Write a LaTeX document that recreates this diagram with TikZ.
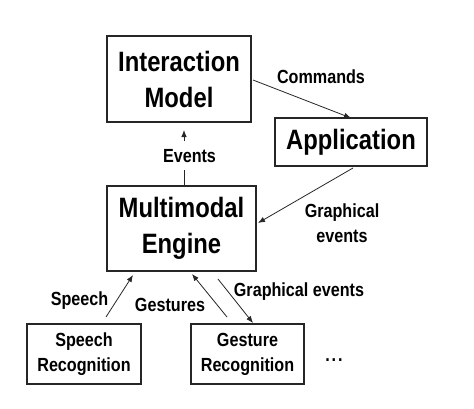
\documentclass[tikz,border=0pt]{standalone}
\usepackage{fontspec}
\setmainfont{Liberation Sans}[FakeStretch=0.85]
\usetikzlibrary{arrows.meta}
\begin{document}
\begin{tikzpicture}[x=1pt,y=-1pt,
  box/.style={draw=black!85,line width=1.2pt,inner sep=0pt,align=center,font=\bfseries},
  bigtxt/.style={font=\fontsize{28}{36}\selectfont\bfseries},
  smalltxt/.style={font=\fontsize{19}{25}\selectfont\bfseries},
  lbl/.style={font=\fontsize{19}{25}\selectfont\bfseries,inner sep=0pt,align=center},
  arr/.style={draw=black!85,line width=0.8pt,-{Latex[length=7pt,width=5.5pt]}},
  ln/.style={draw=black!85,line width=0.8pt}]
\useasboundingbox[fill=white] (0,0) rectangle (474,408);
% boxes
\node[box,bigtxt,minimum width=144pt,minimum height=86pt] (im) at (179,79) {Interaction\\Model};
\node[box,bigtxt,minimum width=152pt,minimum height=48pt] (app) at (351,142) {Application};
\node[box,bigtxt,minimum width=149pt,minimum height=85pt] (mme) at (181.5,228.5) {Multimodal\\Engine};
\node[box,smalltxt,minimum width=114pt,minimum height=60pt] (sr) at (84,354) {Speech\\Recognition};
\node[box,smalltxt,minimum width=113pt,minimum height=60pt] (gr) at (247.5,354) {Gesture\\Recognition};
\node[lbl] (dots) at (334,360) {.\kern2pt.\kern2pt.};
% endpoints
\coordinate (c1) at (253,80);
\coordinate (c2) at (351,118);
\coordinate (e1) at (184,187);
\coordinate (e2) at (184,170);
\coordinate (e3) at (184,141);
\coordinate (e4) at (184,130);
\coordinate (g1) at (353,168);
\coordinate (g2) at (258,223);
\coordinate (s1) at (106,317);
\coordinate (s2) at (133,275);
\coordinate (t1) at (227,317);
\coordinate (t2) at (192,274);
\coordinate (h1) at (218,279);
\coordinate (h2) at (253,323);
% connectors
\draw[arr] (c1) -- (c2);
\draw[ln] (e1) -- (e2);
\draw[arr] (e3) -- (e4);
\draw[arr] (g1) -- (g2);
\draw[arr] (s1) -- (s2);
\draw[arr] (t1) -- (t2);
\draw[arr] (h1) -- (h2);
% labels
\node[lbl,anchor=base] (lcmd) at (321,83) {Commands};
\node[lbl,anchor=base] (lev) at (189.5,162) {Events};
\node[lbl] (lge) at (342,223) {Graphical\\events};
\node[lbl,anchor=base] (lsp) at (79.5,305) {Speech};
\node[lbl,anchor=base] (lgs) at (170,311) {Gestures};
\node[lbl,anchor=base] (lge2) at (299,296) {Graphical events};
\end{tikzpicture}
\end{document}
